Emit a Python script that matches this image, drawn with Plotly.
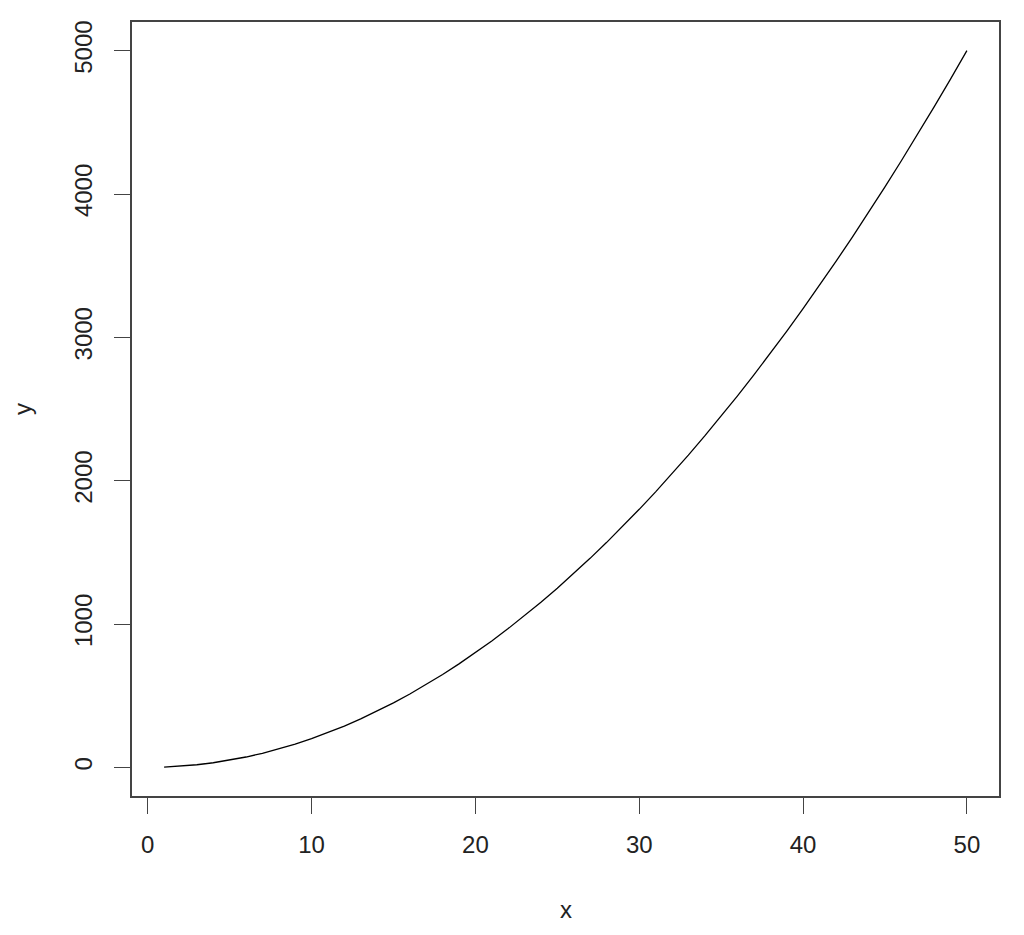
import plotly.graph_objects as go

# x values and read-off y values of the curve
x_vals = list(range(1, 51))
y_vals = [2, 8, 18, 32, 50, 72, 98, 128, 162, 200,
          242, 288, 338, 392, 450, 512, 578, 648, 722, 800,
          882, 968, 1058, 1152, 1250, 1352, 1458, 1568, 1682, 1800,
          1922, 2048, 2178, 2312, 2450, 2592, 2738, 2888, 3042, 3200,
          3362, 3528, 3698, 3872, 4050, 4232, 4418, 4608, 4802, 5000]

x_ticks = [0, 10, 20, 30, 40, 50]
y_ticks = [0, 1000, 2000, 3000, 4000, 5000]

font = dict(family="Liberation Sans, Arial, sans-serif", size=24, color="#222222")

fig = go.Figure()
fig.add_trace(go.Scatter(
    x=x_vals,
    y=y_vals,
    mode="lines",
    line=dict(color="black", width=1.3),
    showlegend=False,
    hoverinfo="skip",
))

axis_common = dict(
    showgrid=False,
    zeroline=False,
    showline=True,
    mirror=True,
    linecolor="#444444",
    linewidth=1.5,
    ticks="outside",
    ticklen=16,
    tickwidth=1.3,
    tickcolor="#444444",
    tickfont=font,
)

fig.update_xaxes(range=[-0.96, 51.96], tickvals=x_ticks, ticklabelstandoff=10, **axis_common)
fig.update_yaxes(range=[-200, 5200], tickvals=y_ticks, tickangle=-90, ticklabelstandoff=13, **axis_common)

# page body adds an 8px margin, so the figure is a little smaller than the window
fig.update_layout(
    width=1016,
    height=927,
    margin=dict(l=124, r=25, t=14, b=139),
    plot_bgcolor="white",
    paper_bgcolor="white",
    font=font,
    annotations=[
        dict(text="x", xref="paper", yref="paper", x=0.5, y=0, yshift=-113,
             showarrow=False, font=font, yanchor="middle"),
        dict(text="y", xref="paper", yref="paper", x=0, y=0.5, xshift=-110,
             showarrow=False, font=font, textangle=-90, xanchor="center"),
    ],
)

fig.write_html("out.html")
